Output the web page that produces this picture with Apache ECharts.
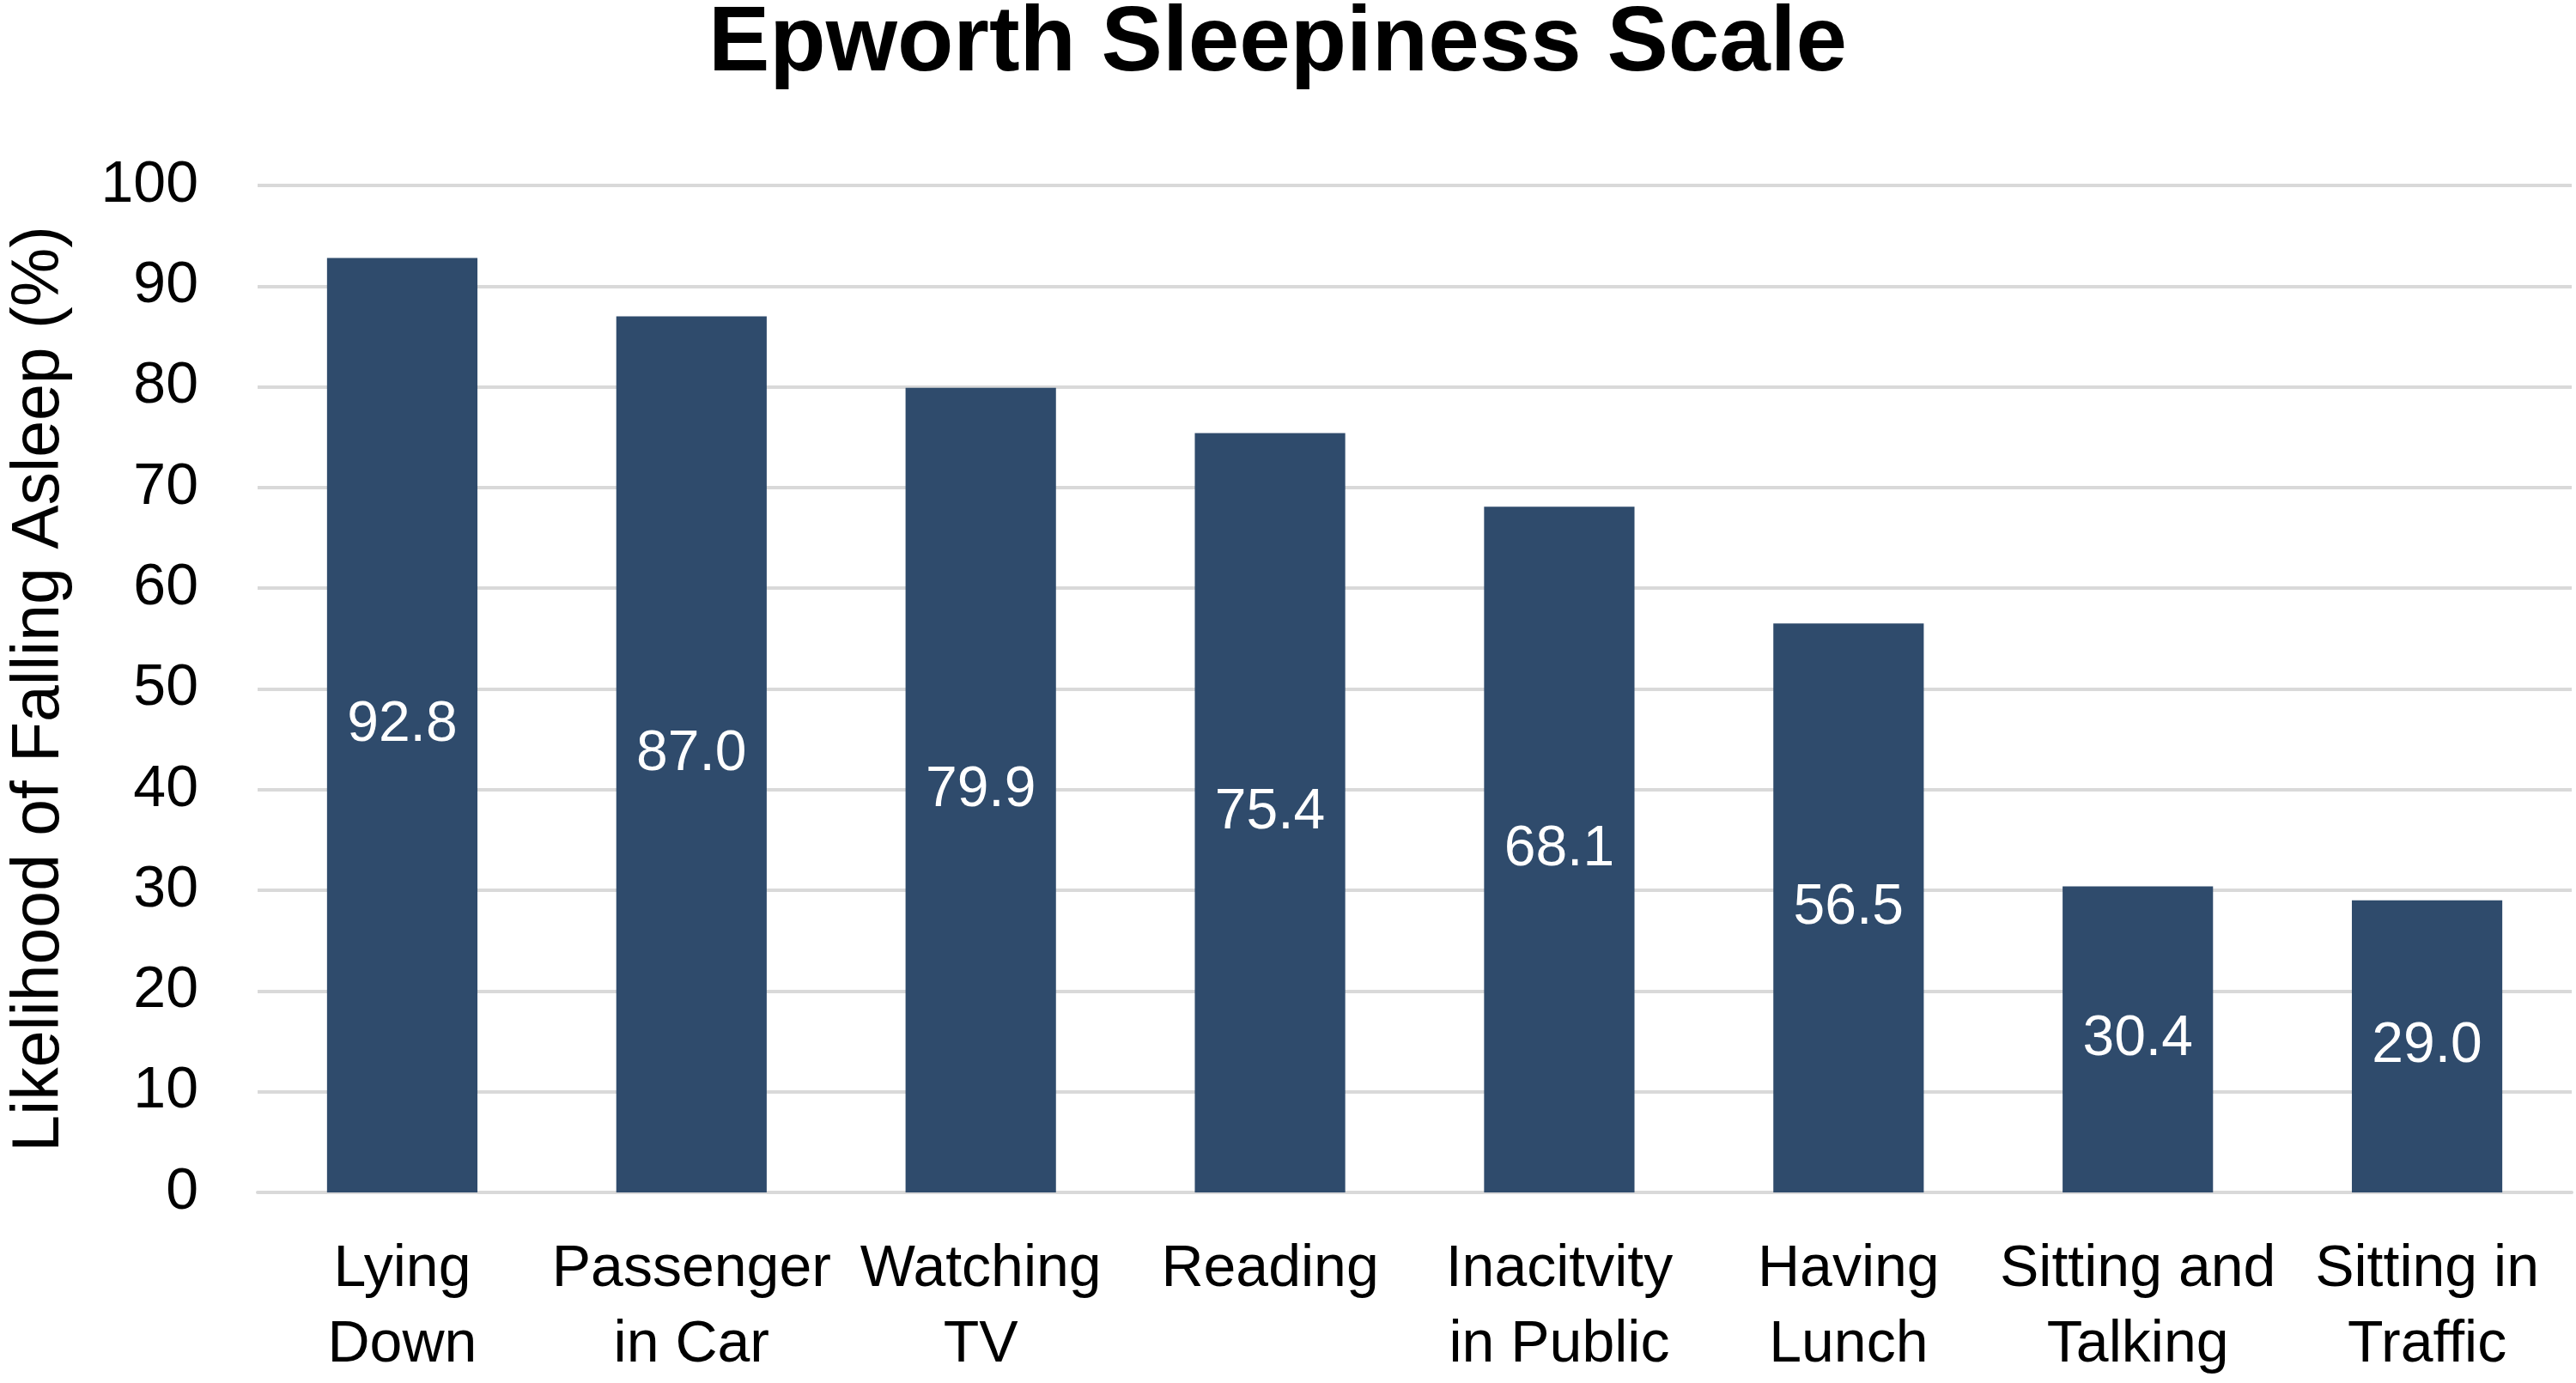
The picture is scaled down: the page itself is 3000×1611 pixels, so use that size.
<!DOCTYPE html>
<html>
<head>
<meta charset="utf-8">
<script src="https://cdn.jsdelivr.net/npm/echarts@6/dist/echarts.min.js"></script>
<style>
html,body{margin:0;padding:0;background:#fff;}
#chart{width:3000px;height:1611px;}
</style>
</head>
<body>
<div id="chart"></div>
<script>
const titleText = 'Epworth Sleepiness Scale';
const yAxisName = 'Likelihood of Falling Asleep (%)';
const categories = ['Lying\nDown', 'Passenger\nin Car', 'Watching\nTV', 'Reading', 'Inacitvity\nin Public', 'Having\nLunch', 'Sitting and\nTalking', 'Sitting in\nTraffic'];
const values = [92.8, 87.0, 79.9, 75.4, 68.1, 56.5, 30.4, 29.0];
const yMin = 0, yMax = 100, yStep = 10;

const font = '"Liberation Sans", Arial, sans-serif';
const chart = echarts.init(document.getElementById('chart'), null, {renderer: 'canvas'});
chart.setOption({
  animation: false,
  backgroundColor: '#ffffff',
  title: {
    text: titleText,
    left: 1483,
    textAlign: 'center',
    top: -6,
    textStyle: {fontFamily: font, fontWeight: 'bold', fontSize: 107, color: '#000'}
  },
  grid: {left: 292, right: 5, top: 216, bottom: 219, containLabel: false},
  xAxis: {
    type: 'category',
    data: categories,
    axisLine: {show: true, lineStyle: {color: '#D9D9D9', width: 4}},
    axisTick: {show: false},
    axisLabel: {fontFamily: font, fontSize: 68, lineHeight: 88, color: '#000', margin: 46, interval: 0}
  },
  yAxis: {
    type: 'value',
    min: yMin, max: yMax, interval: yStep,
    name: yAxisName,
    nameLocation: 'middle',
    nameGap: 215,
    nameTextStyle: {fontFamily: font, fontSize: 77, color: '#000'},
    axisLine: {show: false},
    axisTick: {show: false},
    axisLabel: {fontFamily: font, fontSize: 68, color: '#000', margin: 69},
    splitLine: {lineStyle: {color: '#D9D9D9', width: 4}}
  },
  series: [{
    type: 'bar',
    data: values,
    barCategoryGap: '48%',
    itemStyle: {color: '#2F4B6C'},
    label: {
      show: true, position: 'inside', color: '#fff',
      fontFamily: font, fontSize: 66,
      formatter: p => p.value.toFixed(1)
    }
  }]
});
</script>
</body>
</html>
